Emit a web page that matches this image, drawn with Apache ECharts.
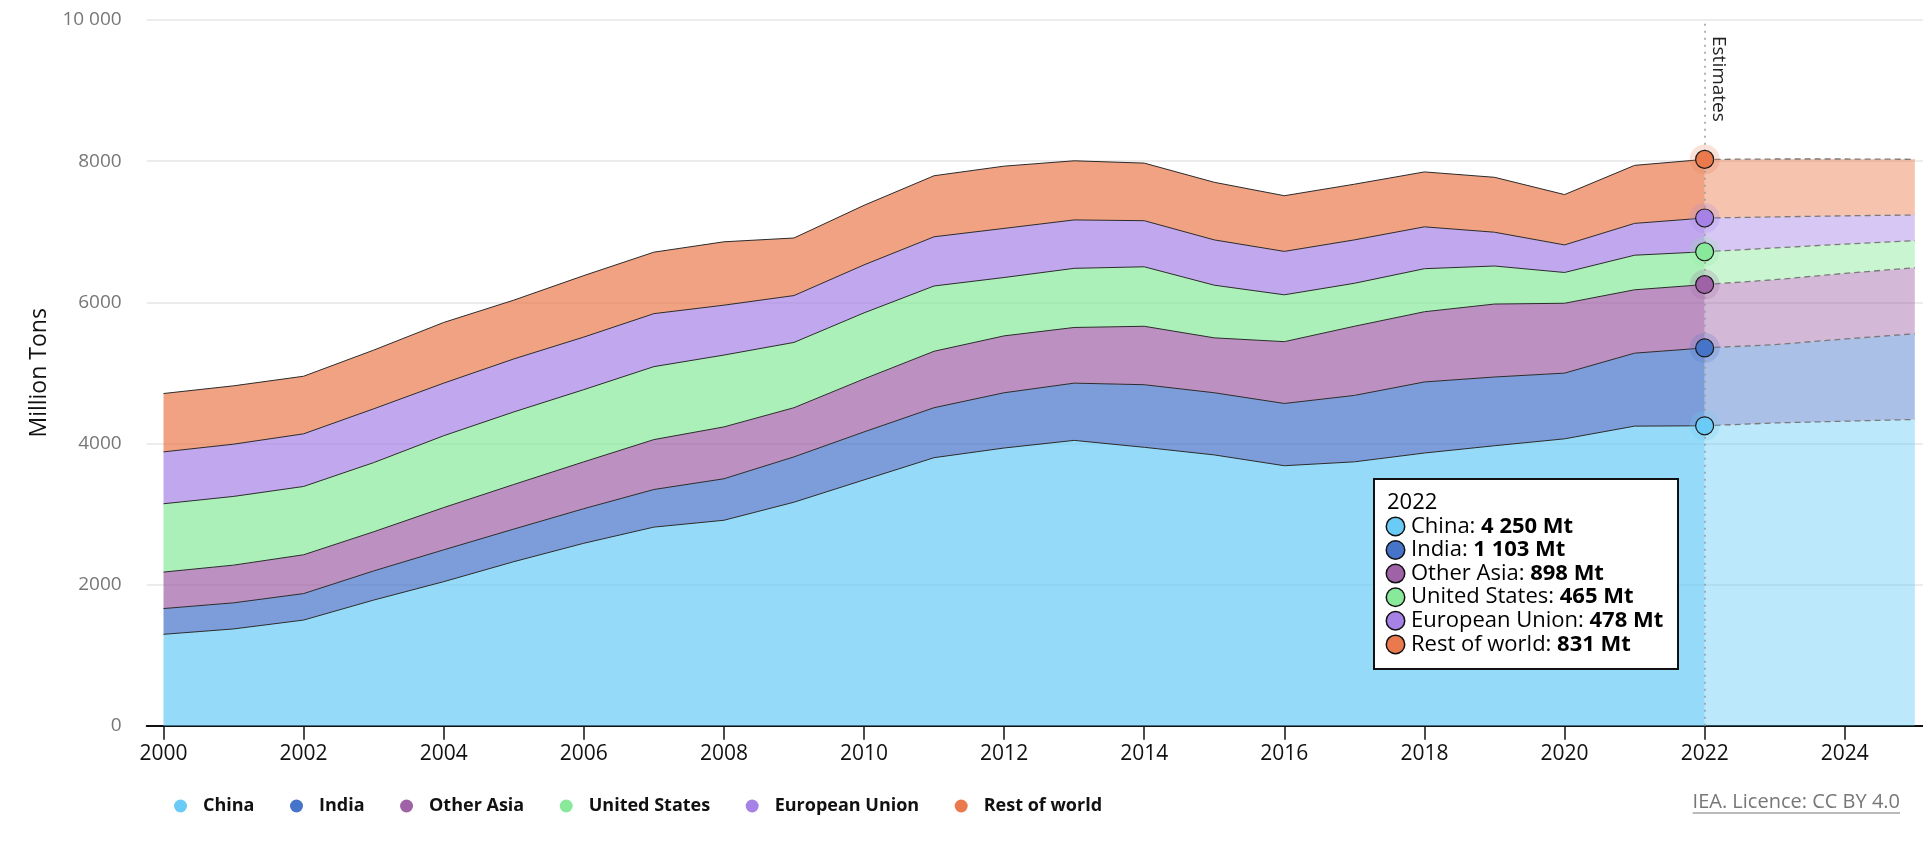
<!DOCTYPE html>
<html>
<head>
<meta charset="utf-8">
<title>Coal demand by region</title>
<script src="https://cdn.jsdelivr.net/npm/echarts@6.0.0/dist/echarts.min.js"></script>
<style>
    html, body { margin: 0; padding: 0; background: #fff; }
    #main { width: 1923px; height: 841px; }
</style>
</head>
<body>
<div id="main"></div>
<script>
    // history 2000-2022 (Mt)
    var years = [2000, 2001, 2002, 2003, 2004, 2005, 2006, 2007, 2008, 2009, 2010, 2011,
        2012, 2013, 2014, 2015, 2016, 2017, 2018, 2019, 2020, 2021, 2022];
    var china = [1295, 1371, 1497, 1780, 2041, 2324, 2585, 2814, 2911, 3167, 3483, 3798,
        3935, 4043, 3945, 3837, 3684, 3739, 3864, 3967, 4065, 4245, 4250];
    var india = [365, 370, 375, 413, 451, 462, 490, 533, 588, 642, 680, 708,
        783, 811, 887, 881, 882, 941, 1007, 974, 931, 1034, 1103];
    var otherAsia = [517, 534, 550, 555, 599, 632, 664, 707, 735, 697, 751, 800,
        806, 789, 828, 778, 876, 980, 995, 1034, 990, 898, 898];
    var unitedStates = [968, 974, 968, 980, 1018, 1028, 1023, 1034, 1018, 925, 936, 925,
        827, 838, 843, 746, 664, 609, 610, 539, 436, 490, 465];
    var europeanUnion = [735, 740, 746, 762, 745, 751, 745, 751, 707, 664, 680, 697,
        696, 686, 653, 642, 615, 615, 593, 479, 391, 451, 478];
    var restOfWorld = [827, 827, 816, 832, 860, 833, 871, 871, 898, 816, 844, 865,
        882, 838, 816, 816, 789, 789, 778, 778, 713, 822, 831];

    // estimates 2022-2025
    var estYears = [2022, 2023, 2024, 2025];
    var chinaEst = [4250, 4290, 4315, 4340];
    var indiaEst = [1103, 1110, 1165, 1215];
    var otherAsiaEst = [898, 920, 930, 935];
    var unitedStatesEst = [465, 450, 415, 383];
    var europeanUnionEst = [478, 440, 400, 364];
    var restOfWorldEst = [831, 820, 805, 789];

    var names = ['China', 'India', 'Other Asia', 'United States', 'European Union', 'Rest of world'];
    var markYear = 2022;

    var colors = ['#6acbf6', '#4574c9', '#9f62a6', '#88e99a', '#a682e6', '#ea7a4e'];
    var FONT = '"Open Sans", "Noto Sans", sans-serif';

    var hist = [china, india, otherAsia, unitedStates, europeanUnion, restOfWorld];
    var est = [chinaEst, indiaEst, otherAsiaEst, unitedStatesEst, europeanUnionEst, restOfWorldEst];
    var last = years.indexOf(markYear);

    // one category per year, 2000..2025
    var categories = years.concat(estYears.slice(1)).map(String);
    var estStart = categories.indexOf(String(estYears[0]));

    function pad(offset, vals) {
        var out = [];
        for (var i = 0; i < offset; i++) out.push('-');
        return out.concat(vals);
    }

    function fmt(v) {
        var s = String(v);
        return v >= 1000 ? s.slice(0, -3) + ' ' + s.slice(-3) : s;
    }

    function alpha(hex, a) {
        var n = parseInt(hex.slice(1), 16);
        return 'rgba(' + (n >> 16) + ',' + ((n >> 8) & 255) + ',' + (n & 255) + ',' + a + ')';
    }

    var common = {type: 'line', xAxisIndex: 1, yAxisIndex: 1, silent: true};
    var series = [];
    hist.forEach(function (vals, k) {
        series.push(Object.assign({}, common, {
            name: names[k], stack: 'hist', data: vals.slice(),
            symbol: 'none', color: colors[k], z: 3,
            lineStyle: {color: '#2b2b2b', width: 1},
            areaStyle: {color: colors[k], opacity: 0.7}
        }));
    });
    est.forEach(function (vals, k) {
        series.push(Object.assign({}, common, {
            name: names[k], stack: 'est', data: pad(estStart, vals),
            symbol: 'none', color: colors[k], z: 2,
            lineStyle: {color: '#7a7a7a', width: 1.3, type: [6, 4]},
            areaStyle: {color: colors[k], opacity: 0.45}
        }));
    });
    // halo + marker at the last actual year
    hist.forEach(function (vals, k) {
        var s = Object.assign({}, common, {
            name: names[k], stack: 'halo', data: pad(last, [vals[last]]),
            symbol: 'circle', symbolSize: 30, showSymbol: true, z: 4,
            lineStyle: {opacity: 0},
            itemStyle: {color: alpha(colors[k], 0.22), borderWidth: 0}
        });
        if (k === 0) {
            s.markLine = {
                silent: true, symbol: ['none', 'none'], label: {show: false},
                lineStyle: {color: '#9a9a9a', type: [2, 5], width: 1.5},
                data: [{xAxis: String(markYear)}]
            };
        }
        series.push(s);
    });
    hist.forEach(function (vals, k) {
        series.push(Object.assign({}, common, {
            name: names[k], stack: 'marks', data: pad(last, [vals[last]]),
            symbol: 'circle', symbolSize: 18, showSymbol: true, z: 5,
            lineStyle: {opacity: 0},
            itemStyle: {color: colors[k], borderColor: '#1a1a1a', borderWidth: 1.2}
        }));
    });

    // tooltip-like box text
    var rich = {
        hd: {fontSize: 22, lineHeight: 23.6, color: '#111', fontFamily: FONT},
        n: {fontSize: 22, lineHeight: 23.6, color: '#111', fontFamily: FONT},
        b: {fontSize: 22, lineHeight: 23.6, color: '#111', fontWeight: 'bold', fontFamily: FONT},
        sp: {width: 7}
    };
    var boxLines = ['{hd|' + markYear + '}'];
    names.forEach(function (nm, k) {
        rich['d' + k] = {width: 17, height: 17, borderRadius: 8.5, backgroundColor: colors[k],
            borderColor: '#111', borderWidth: 1.5};
        boxLines.push('{d' + k + '|}{sp|}{n|' + nm + ': }{b|' + fmt(hist[k][last]) + ' Mt}');
    });

    var myChart = echarts.init(document.getElementById('main'));
    myChart.setOption({
        animation: false,
        textStyle: {fontFamily: FONT},
        grid: [
            // frame: gridlines, y labels and the axis line
            {left: 146.7, right: 0, top: 20, bottom: 115.3},
            // data area: 2000 .. 2025
            {left: 163.5, right: 8.2, top: 20, bottom: 115.3}
        ],
        legend: {
            data: names, left: 169, top: 792, icon: 'circle',
            itemWidth: 13, itemHeight: 13, itemGap: 35.5,
            itemStyle: {borderWidth: 0},
            textStyle: {fontSize: 18, fontWeight: 'bold', color: '#111', fontFamily: FONT,
                padding: [0, 0, 0, 11]}
        },
        xAxis: [
            {
                gridIndex: 0, type: 'value', min: 0, max: 1,
                splitLine: {show: false}, axisTick: {show: false}, axisLabel: {show: false},
                axisLine: {lineStyle: {color: '#111', width: 2}}
            },
            {
                gridIndex: 1, type: 'category', boundaryGap: false, data: categories,
                axisLine: {show: false},
                axisTick: {interval: 1, length: 14, lineStyle: {color: '#111', width: 1.5}},
                axisLabel: {interval: 1, margin: 18, fontSize: 21, color: '#111'}
            }
        ],
        yAxis: [
            {
                gridIndex: 0, type: 'value', min: 0, max: 10000, interval: 2000,
                name: 'Million Tons', nameLocation: 'middle', nameGap: 96,
                nameTextStyle: {fontSize: 23, fontWeight: 500, color: '#111'},
                axisLine: {show: false}, axisTick: {show: false},
                axisLabel: {
                    margin: 25, fontSize: 19, color: '#777',
                    formatter: function (v) { return v >= 10000 ? fmt(v) : String(v); }
                },
                splitLine: {lineStyle: {color: '#e6e6e6', width: 1.5}}
            },
            {
                gridIndex: 1, type: 'value', min: 0, max: 10000, interval: 2000, show: false
            }
        ],
        series: series
    });

    var lineX = myChart.convertToPixel({xAxisIndex: 1}, String(markYear));
    var licence = 'IEA. Licence: CC BY 4.0';
    var ctx = document.createElement('canvas').getContext('2d');
    ctx.font = '20px "Open Sans"';
    var licW = ctx.measureText(licence).width;

    myChart.setOption({
        graphic: [
            {
                type: 'text', x: lineX + 14, y: 36, rotation: -Math.PI / 2, z: 10,
                style: {text: 'Estimates', fontSize: 19, fill: '#222', fontFamily: FONT,
                    align: 'left', verticalAlign: 'middle'}
            },
            {
                type: 'rect', z: 20, shape: {x: 1374, y: 479, width: 304, height: 190},
                style: {fill: '#fff', stroke: '#111', lineWidth: 2}
            },
            {
                type: 'text', z: 21, x: 1387, y: 491,
                style: {text: boxLines.join('\n'), rich: rich}
            },
            {
                type: 'text', x: 1900, y: 802, z: 10,
                style: {text: licence, fontSize: 20, fill: '#777',
                    fontFamily: FONT, align: 'right', verticalAlign: 'middle'}
            },
            {
                type: 'line', z: 10,
                shape: {x1: 1900 - licW, y1: 813, x2: 1900, y2: 813},
                style: {stroke: '#777', lineWidth: 1.2}
            }
        ]
    });
</script>
</body>
</html>
